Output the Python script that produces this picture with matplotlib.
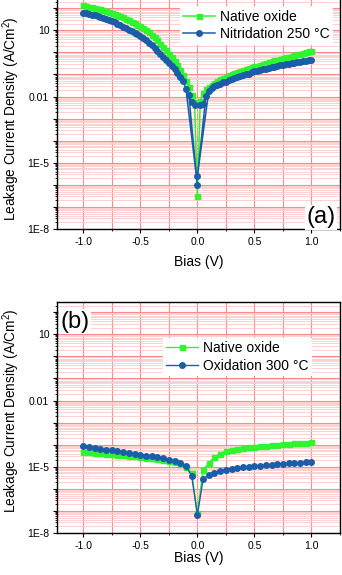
import matplotlib
matplotlib.use("Agg")
import matplotlib.pyplot as plt
from matplotlib.ticker import LogLocator, FuncFormatter, NullFormatter, MultipleLocator, FormatStrFormatter

plt.rcParams["font.family"] = ["Liberation Sans", "DejaVu Sans"]
plt.rcParams["mathtext.fontset"] = "custom"
plt.rcParams["mathtext.rm"] = "Liberation Sans"
plt.rcParams["mathtext.it"] = "Liberation Sans"

# ---- panel (a): native oxide vs nitridation 250 C ----
bias_a = [-1.0, -0.975, -0.95, -0.925, -0.9, -0.875, -0.85, -0.825, -0.8, -0.775,
          -0.75, -0.725, -0.7, -0.675, -0.65, -0.625, -0.6, -0.575, -0.55, -0.525,
          -0.5, -0.475, -0.45, -0.425, -0.4, -0.375, -0.35, -0.325, -0.3, -0.275,
          -0.25, -0.225, -0.2, -0.175, -0.15, -0.125, -0.1, -0.075, -0.05, -0.025,
          0.0, 0.025, 0.05, 0.075, 0.1, 0.125, 0.15, 0.175, 0.2, 0.225,
          0.25, 0.275, 0.3, 0.325, 0.35, 0.375, 0.4, 0.425, 0.45, 0.475,
          0.5, 0.525, 0.55, 0.575, 0.6, 0.625, 0.65, 0.675, 0.7, 0.725,
          0.75, 0.775, 0.8, 0.825, 0.85, 0.875, 0.9, 0.925, 0.95, 0.975, 1.0]
native_a = [138, 129, 120, 112, 104, 95, 88, 81, 74, 68,
            62, 56, 50, 44, 39, 34, 29, 25, 21, 18,
            15, 12.3, 10, 8.0, 6.3, 4.8, 3.5, 2.5, 1.8, 1.3,
            0.89, 0.60, 0.40, 0.26, 0.16, 0.095, 0.052, 0.026, 0.012, 0.0056,
            3.2e-7, 0.0063, 0.014, 0.021, 0.028, 0.035, 0.043, 0.051, 0.060, 0.071,
            0.081, 0.091, 0.10, 0.115, 0.13, 0.145, 0.16, 0.17, 0.19, 0.21,
            0.23, 0.25, 0.28, 0.30, 0.33, 0.355, 0.39, 0.43, 0.46, 0.50,
            0.54, 0.59, 0.63, 0.69, 0.74, 0.81, 0.87, 0.93, 1.02, 1.10, 1.20]

# nitrided sample: measurement order passes through 0 V twice
bias_n = [-1.0, -0.975, -0.95, -0.925, -0.9, -0.875, -0.85, -0.825, -0.8, -0.775,
          -0.75, -0.725, -0.7, -0.675, -0.65, -0.625, -0.6, -0.575, -0.55, -0.525,
          -0.5, -0.475, -0.45, -0.425, -0.4, -0.375, -0.35, -0.325, -0.3, -0.275,
          -0.25, -0.225, -0.2, -0.175, -0.15, -0.125, -0.1, 0.0, -0.075, -0.05,
          -0.025, 0.025, 0.05, 0.075, 0.0, 0.1, 0.125, 0.15, 0.175, 0.2, 0.225,
          0.25, 0.275, 0.3, 0.325, 0.35, 0.375, 0.4, 0.425, 0.45, 0.475,
          0.5, 0.525, 0.55, 0.575, 0.6, 0.625, 0.65, 0.675, 0.7, 0.725,
          0.75, 0.775, 0.8, 0.825, 0.85, 0.875, 0.9, 0.925, 0.95, 0.975, 1.0]
nitrid_a = [62, 58, 54, 50, 47, 44, 40, 36, 32, 29,
            26, 23, 20, 17.4, 14.8, 12.6, 10.7, 9.1, 7.8, 6.5,
            5.4, 4.4, 3.5, 2.7, 2.1, 1.6, 1.17, 0.87, 0.63, 0.47,
            0.34, 0.25, 0.17, 0.12, 0.079, 0.051, 0.022, 1.0e-6, 0.012, 0.0055,
            0.0042, 0.0042, 0.0048, 0.011, 2.4e-6, 0.018, 0.024, 0.029, 0.034, 0.039, 0.044,
            0.048, 0.054, 0.060, 0.068, 0.074, 0.083, 0.091, 0.10, 0.11, 0.126,
            0.138, 0.148, 0.158, 0.17, 0.18, 0.195, 0.21, 0.22, 0.24, 0.26,
            0.275, 0.29, 0.30, 0.32, 0.34, 0.355, 0.37, 0.39, 0.42, 0.44, 0.46]

# ---- panel (b): native oxide vs oxidation 300 C ----
bias_b = [-1.0, -0.95, -0.9, -0.85, -0.8, -0.75, -0.7, -0.65, -0.6, -0.55,
          -0.5, -0.45, -0.4, -0.35, -0.3, -0.25, -0.2, -0.15, -0.1, -0.05,
          0.0, 0.05, 0.1, 0.15, 0.2, 0.25, 0.3, 0.35, 0.4, 0.45,
          0.5, 0.55, 0.6, 0.65, 0.7, 0.75, 0.8, 0.85, 0.9, 0.95, 1.0]
native_b = [4.8e-5, 4.6e-5, 4.4e-5, 4.2e-5, 4.0e-5, 3.8e-5, 3.6e-5, 3.5e-5, 3.2e-5, 3.0e-5,
            2.8e-5, 2.6e-5, 2.45e-5, 2.3e-5, 2.1e-5, 1.9e-5, 1.66e-5, 1.38e-5, 1.0e-5, 5.0e-6,
            8e-8, 7.1e-6, 1.5e-5, 2.8e-5, 4.0e-5, 5.2e-5, 5.8e-5, 6.3e-5, 6.9e-5, 7.6e-5,
            8.3e-5, 8.7e-5, 9.1e-5, 9.5e-5, 1.0e-4, 1.05e-4, 1.1e-4, 1.15e-4, 1.2e-4, 1.26e-4, 1.35e-4]
oxid_b = [8.7e-5, 7.9e-5, 7.2e-5, 6.6e-5, 6.0e-5, 5.6e-5, 5.1e-5, 4.7e-5, 4.3e-5, 3.9e-5,
          3.5e-5, 3.2e-5, 2.95e-5, 2.7e-5, 2.4e-5, 2.1e-5, 1.86e-5, 1.5e-5, 1.05e-5, 4.0e-6,
          6.5e-8, 2.7e-6, 4.4e-6, 5.5e-6, 6.5e-6, 7.2e-6, 7.9e-6, 8.7e-6, 9.3e-6, 1.0e-5,
          1.07e-5, 1.12e-5, 1.17e-5, 1.23e-5, 1.29e-5, 1.35e-5, 1.41e-5, 1.48e-5, 1.55e-5, 1.62e-5, 1.7e-5]

ytick_labels = {-8: "1E-8", -5: "1E-5", -2: "0.01", 1: "10"}

GREEN = "#2ef52e"
BLUE = "#1b5ea8"
RED = "#ff8a8a"
PINK = "#ffcaca"


def fmt_y(v, pos):
    import math
    e = int(round(math.log10(v)))
    return ytick_labels.get(e, "")


def style_axes(ax, label_y):
    ax.set_yscale("log")
    ax.set_xlim(-1.23, 1.25)
    ax.set_ylim(1e-8, 290)
    ax.yaxis.set_major_locator(LogLocator(base=10, numticks=20))
    ax.yaxis.set_major_formatter(FuncFormatter(fmt_y))
    ax.yaxis.set_minor_locator(LogLocator(base=10, subs=range(2, 10), numticks=20))
    ax.yaxis.set_minor_formatter(NullFormatter())
    ax.xaxis.set_major_locator(MultipleLocator(0.5))
    ax.xaxis.set_minor_locator(MultipleLocator(0.25))
    ax.xaxis.set_major_formatter(FormatStrFormatter("%.1f"))
    ax.grid(which="major", color=RED, lw=0.8)
    ax.grid(which="minor", axis="x", color=RED, lw=0.8)
    ax.grid(which="minor", axis="y", color=PINK, lw=0.6)
    ax.set_axisbelow(True)
    ax.tick_params(which="major", direction="out", length=3, width=0.8, labelsize=7.5, pad=2.5)
    ax.tick_params(which="minor", direction="out", length=1.6, width=0.6)
    for s in ax.spines.values():
        s.set_linewidth(1.0)
    ax.set_ylabel("Leakage Current Density (A/Cm$^2$)", fontsize=9.8)
    ax.yaxis.set_label_coords(-0.125, label_y)


fig = plt.figure(figsize=(3.42, 5.75), dpi=100)
ax1 = fig.add_axes([0.1667, 0.6017, 0.8275, 0.4017])
ax2 = fig.add_axes([0.1667, 0.0730, 0.8275, 0.4017])

style_axes(ax1, 0.48)
ax1.plot(bias_a, native_a, "-s", color=GREEN, ms=3.6, lw=1.1, label="Native oxide")
ax1.plot(bias_n, nitrid_a, "-o", color=BLUE, ms=4.0, lw=1.1, label="Nitridation 250 \u00b0C")
ax1.set_xlabel("Bias (V)", fontsize=10, labelpad=6)
leg = ax1.legend(loc="upper left", bbox_to_anchor=(0.41, 0.995), fontsize=10,
                 handlelength=2.3, handletextpad=0.3, labelspacing=0.25,
                 borderpad=0.25, frameon=True, fancybox=False, framealpha=1)
leg.get_frame().set_edgecolor("none")
ax1.text(0.985, 0.05, "(a)", transform=ax1.transAxes, fontsize=17, ha="right", va="center",
         bbox=dict(facecolor="white", edgecolor="none", pad=1))

style_axes(ax2, 0.53)
ax2.plot(bias_b, native_b, "-s", color=GREEN, ms=3.6, lw=1.0, label="Native oxide")
ax2.plot(bias_b, oxid_b, "-o", color=BLUE, ms=4.0, lw=1.0, label="Oxidation 300 \u00b0C")
ax2.set_xlabel("Bias (V)", fontsize=10, labelpad=0)
leg2 = ax2.legend(loc="upper left", bbox_to_anchor=(0.35, 0.875), fontsize=10,
                  handlelength=2.3, handletextpad=0.3, labelspacing=0.25,
                  borderpad=0.25, frameon=True, fancybox=False, framealpha=1)
leg2.get_frame().set_edgecolor("none")
ax2.text(0.012, 0.915, "(b)", transform=ax2.transAxes, fontsize=17, ha="left", va="center",
         bbox=dict(facecolor="white", edgecolor="none", pad=1))

fig.savefig("out.png", dpi=100)
